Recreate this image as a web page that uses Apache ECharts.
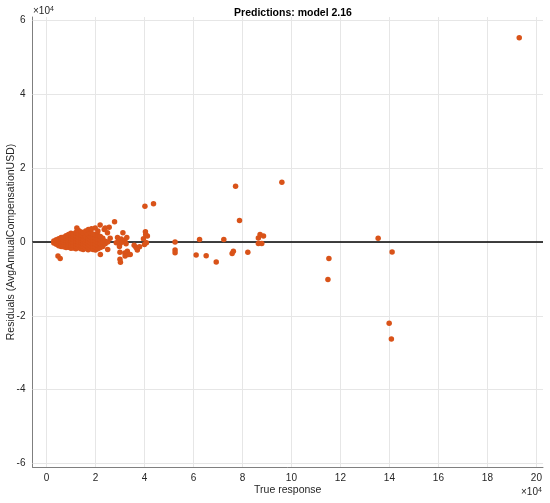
<!DOCTYPE html>
<html>
<head>
<meta charset="utf-8">
<script src="https://cdn.jsdelivr.net/npm/echarts@6/dist/echarts.min.js"></script>
<style>html,body{margin:0;padding:0;background:#fff;}#c{width:550px;height:503px;}</style>
</head>
<body>
<div id="c"></div>
<script>
// Values in units of 1e4
const xTicks = [0, 2, 4, 6, 8, 10, 12, 14, 16, 18, 20];
const yTicks = [-6, -4, -2, 0, 2, 4, 6];
// [true response, residual]
const clusterPoints = [
  [0.30,-0.03],[0.30,0.03],[0.35,0.00],
  [0.40,-0.06],[0.40,0.00],[0.40,0.06],
  [0.50,-0.10],[0.50,-0.03],[0.50,0.04],[0.50,0.09],
  [0.60,-0.12],[0.60,-0.05],[0.60,0.02],[0.60,0.08],[0.60,0.12],
  [0.70,-0.13],[0.70,-0.06],[0.70,0.00],[0.70,0.06],[0.70,0.13],
  [0.80,-0.15],[0.80,-0.08],[0.80,-0.01],[0.80,0.05],[0.80,0.11],[0.80,0.17],
  [0.90,-0.14],[0.90,-0.07],[0.90,0.00],[0.90,0.07],[0.90,0.14],[0.90,0.20],
  [1.00,-0.17],[1.00,-0.10],[1.00,-0.03],[1.00,0.04],[1.00,0.10],[1.00,0.18],[1.00,0.24],
  [1.10,-0.16],[1.10,-0.08],[1.10,0.00],[1.10,0.08],[1.10,0.15],[1.10,0.22],
  [1.20,-0.18],[1.20,-0.11],[1.20,-0.04],[1.20,0.03],[1.20,0.10],[1.20,0.17],[1.20,0.26],[1.24,0.38],
  [1.30,-0.15],[1.30,-0.08],[1.30,0.00],[1.30,0.07],[1.30,0.14],[1.30,0.22],[1.30,0.32],
  [1.40,-0.18],[1.40,-0.10],[1.40,-0.02],[1.40,0.05],[1.40,0.12],[1.40,0.20],[1.40,0.28],
  [1.50,-0.20],[1.50,-0.12],[1.50,-0.05],[1.50,0.02],[1.50,0.09],[1.50,0.16],[1.50,0.24],
  [1.60,-0.17],[1.60,-0.09],[1.60,-0.01],[1.60,0.07],[1.60,0.14],[1.60,0.30],
  [1.70,-0.21],[1.70,-0.13],[1.70,-0.05],[1.70,0.03],[1.70,0.10],[1.70,0.20],[1.71,0.34],
  [1.80,-0.18],[1.80,-0.10],[1.80,-0.02],[1.80,0.06],[1.80,0.14],[1.80,0.25],[1.84,0.36],
  [1.90,-0.20],[1.90,-0.12],[1.90,-0.04],[1.90,0.04],[1.90,0.12],[1.90,0.22],
  [2.00,-0.22],[2.00,-0.14],[2.00,-0.06],[2.00,0.02],[2.00,0.10],[2.00,0.20],[1.99,0.38],
  [2.10,-0.18],[2.10,-0.08],[2.10,0.00],[2.10,0.08],[2.10,0.18],[2.10,0.30],
  [2.20,-0.34],[2.20,-0.15],[2.20,-0.05],[2.20,0.05],[2.20,0.15],[2.19,0.46],
  [2.30,-0.12],[2.30,-0.02],[2.30,0.10],[2.36,0.34],
  [2.40,-0.05],[2.40,0.02],[2.40,0.38],
  [2.49,0.25],[2.50,-0.20],[2.50,0.00],[2.56,0.40],
  [2.60,0.10],[2.78,0.55],
  [0.47,-0.38],[0.56,-0.45]
];
const spreadPoints = [
  [2.85,-0.02],[2.90,0.12],[2.95,0.02],[3.00,-0.05],[3.05,0.08],[3.10,0.00],
  [3.12,0.25],[3.20,0.05],[3.25,-0.05],[2.98,-0.12],[3.00,-0.28],[3.00,-0.47],
  [3.02,-0.55],[3.20,-0.30],[3.30,-0.25],[3.28,0.12],[3.21,-0.38],[3.35,-0.34],
  [3.42,-0.34],[3.58,-0.09],[3.65,-0.14],[3.69,-0.16],[3.71,-0.22],[3.80,-0.13],
  [3.96,0.09],[4.04,0.28],[4.12,0.16],[4.05,0.20],[4.00,-0.07],[4.08,-0.02],
  [4.02,0.97],[4.37,1.04],
  [5.25,0.00],[5.25,-0.22],[5.25,-0.29],
  [6.11,-0.35],[6.25,0.07],[6.52,-0.37],[6.93,-0.54],[7.24,0.07],
  [7.58,-0.31],[7.63,-0.25],[7.72,1.51],[7.88,0.58],[8.22,-0.28],
  [8.65,0.11],[8.72,0.20],[8.86,0.16],[8.65,-0.04],[8.79,-0.04],
  [9.61,1.62],
  [11.53,-0.45],[11.49,-1.02],
  [13.54,0.10],[14.11,-0.27],[13.99,-2.20],[14.08,-2.63],
  [19.30,5.54]
];
const allPoints = clusterPoints.concat(spreadPoints);

const gridLineData = xTicks.map(v => ({xAxis: v})).concat(yTicks.map(v => ({yAxis: v})));

const chart = echarts.init(document.getElementById('c'), null, {renderer: 'canvas'});
const txt = '#262626';
const axisCol = '#7f7f7f';
const font = 'Liberation Sans, Arial, sans-serif';
chart.setOption({
  animation: false,
  backgroundColor: '#fff',
  title: {
    text: 'Predictions: model 2.16',
    left: 288, top: 3, textAlign: 'center',
    textStyle: {fontFamily: font, fontSize: 10.5, fontWeight: 'bold', color: '#000'}
  },
  grid: {left: 32.5, right: 7, top: 17, bottom: 36, containLabel: false, outerBoundsMode: 'none'},
  xAxis: {
    type: 'value', min: -0.57, max: 20.27,
    name: 'True response', nameLocation: 'middle', nameGap: 18, nameMoveOverlap: false,
    nameTextStyle: {fontFamily: font, fontSize: 10.5, color: txt},
    axisLine: {show: true, onZero: false, lineStyle: {color: axisCol, width: 1}},
    axisTick: {show: true, inside: true, length: 4, customValues: xTicks, lineStyle: {color: axisCol}},
    axisLabel: {customValues: xTicks, margin: 6, fontFamily: font, fontSize: 10, color: txt},
    splitLine: {show: false}
  },
  yAxis: {
    type: 'value', min: -6.1, max: 6.1,
    name: 'Residuals (AvgAnnualCompensationUSD)', nameLocation: 'middle', nameGap: 15.5, nameMoveOverlap: false,
    nameTextStyle: {fontFamily: font, fontSize: 10.5, color: txt},
    axisLine: {show: true, onZero: false, lineStyle: {color: axisCol, width: 1}},
    axisTick: {show: true, inside: true, length: 4, customValues: yTicks, lineStyle: {color: axisCol}},
    axisLabel: {customValues: yTicks, margin: 7, fontFamily: font, fontSize: 10, color: txt},
    splitLine: {show: false}
  },
  graphic: [
    {type: 'text', left: 33, top: 6, style: {
      rich: {b: {fontSize: 10, fill: txt, fontFamily: font, verticalAlign: 'bottom'},
             s: {fontSize: 7, fill: txt, fontFamily: font, verticalAlign: 'top'}},
      text: '{b|\u00d710}{s|4}'}},
    {type: 'text', left: 521, top: 487, style: {
      rich: {b: {fontSize: 10, fill: txt, fontFamily: font, verticalAlign: 'bottom'},
             s: {fontSize: 7, fill: txt, fontFamily: font, verticalAlign: 'top'}},
      text: '{b|\u00d710}{s|4}'}}
  ],
  series: [{
    type: 'scatter',
    data: [],
    z: 1,
    markLine: {
      silent: true, symbol: ['none', 'none'], animation: false, z: 1,
      label: {show: false},
      lineStyle: {color: '#e6e6e6', width: 1, type: 'solid'},
      data: gridLineData
    }
  }, {
    type: 'scatter',
    data: [],
    z: 2,
    markLine: {
      silent: true, symbol: ['none', 'none'], animation: false, z: 2,
      label: {show: false},
      lineStyle: {color: '#000', width: 1.6, type: 'solid'},
      data: [{yAxis: 0}]
    }
  }, {
    type: 'scatter',
    data: allPoints,
    symbolSize: 5.5,
    itemStyle: {color: '#D95319', opacity: 1},
    z: 3
  }]
});
</script>
</body>
</html>
